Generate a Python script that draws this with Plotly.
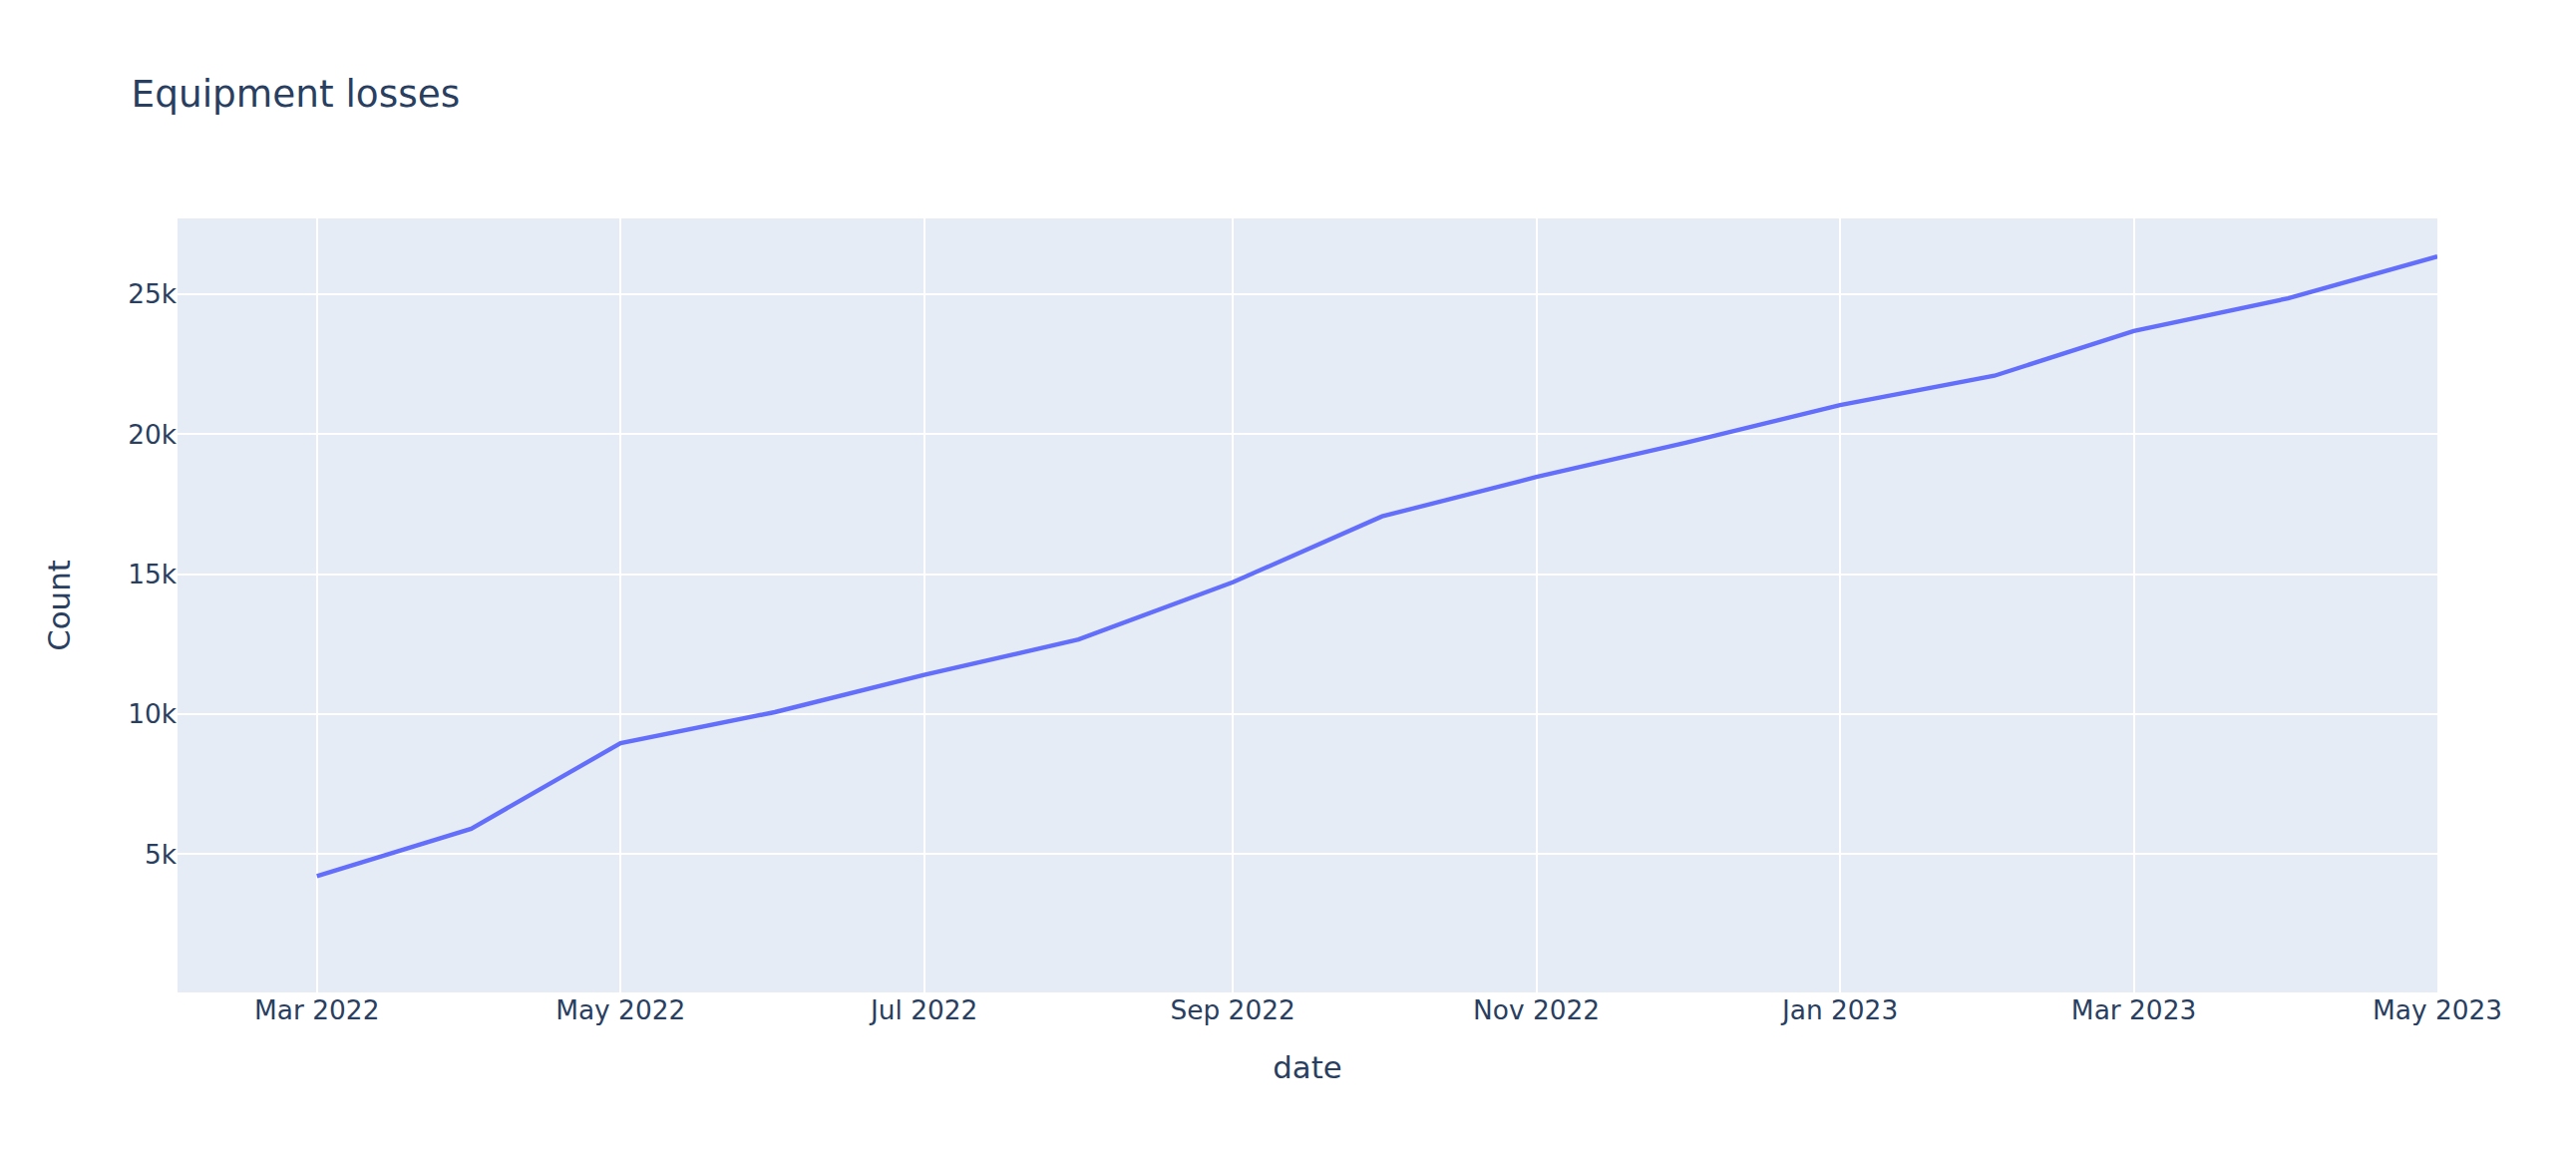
import pandas as pd
import plotly.express as px

# monthly cumulative equipment losses
dates = [
    "2022-03-01", "2022-04-01", "2022-05-01", "2022-06-01", "2022-07-01",
    "2022-08-01", "2022-09-01", "2022-10-01", "2022-11-01", "2022-12-01",
    "2023-01-01", "2023-02-01", "2023-03-01", "2023-04-01", "2023-05-01",
]
counts = [
    4218, 5909, 8964, 10073, 11400,
    12671, 14714, 17067, 18474, 19698,
    21040, 22090, 23689, 24857, 26352,
]

df = pd.DataFrame({"date": pd.to_datetime(dates), "Count": counts})

S = 2.2  # the reference looks like a default figure scaled up ~2.2x

fig = px.line(df, x="date", y="Count", title="Equipment losses")
fig.update_traces(line=dict(color="#636efa", width=2 * S))

# page body adds an 8px offset, so the figure is 8px smaller
fig.update_layout(
    width=2575,
    height=1159,
    margin=dict(l=170, r=139, t=211, b=172),
    font=dict(family="DejaVu Sans, Verdana, sans-serif", size=12 * S, color="#2a3f5f"),
    title=dict(font=dict(size=17 * S), x=0.048, xanchor="left", y=1 - 86 / 1159, yanchor="middle"),
    plot_bgcolor="#E5ECF6",
    paper_bgcolor="white",
    showlegend=False,
)
fig.update_xaxes(
    range=["2022-02-01", "2023-05-01"],
    dtick="M2",
    tick0="2022-01-01",
    tickformat="%b %Y",
    gridcolor="white",
    gridwidth=2,
    title_font=dict(size=14 * S),
    title_standoff=32,
    ticklen=0,
)
fig.update_yaxes(
    range=[60, 27710],
    dtick=5000,
    gridcolor="white",
    gridwidth=2,
    zeroline=False,
    title_font=dict(size=14 * S),
    title_standoff=48,
)

fig.write_html("out.html")
